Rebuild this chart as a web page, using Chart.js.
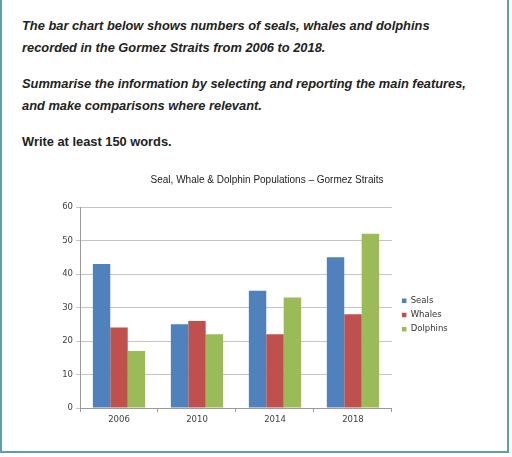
<!DOCTYPE html>
<html>
<head>
<meta charset="utf-8">
<script src="https://cdn.jsdelivr.net/npm/chart.js@4.4.1/dist/chart.umd.min.js"></script>
<style>
html, body { margin: 0; padding: 0; background: #fff; }
body { width: 512px; height: 457px; position: relative; overflow: hidden; }
#frame { position: absolute; left: 0; top: -4px; width: 509px; height: 457px; box-sizing: border-box;
  border: 2px solid #5f9cb8; border-top: none; }
.task { position: absolute; left: 22px; font: italic bold 12.85px "Liberation Sans", Arial, sans-serif;
  color: #222; line-height: 22px; white-space: nowrap; }
.plain { font-style: normal; }
#chart { position: absolute; left: 0; top: 165px; }
</style>
</head>
<body>
<div id="frame"></div>
<div class="task" style="top:15px">The bar chart below shows numbers of seals, whales and dolphins</div>
<div class="task" style="top:37px">recorded in the Gormez Straits from 2006 to 2018.</div>
<div class="task" style="top:73px">Summarise the information by selecting and reporting the main features,</div>
<div class="task" style="top:95px">and make comparisons where relevant.</div>
<div class="task plain" style="top:131px">Write at least 150 words.</div>
<canvas id="chart" width="512" height="290"></canvas>
<script>
const years = ['2006', '2010', '2014', '2018'];
const seals = [43, 25, 35, 45];
const whales = [24, 26, 22, 28];
const dolphins = [17, 22, 33, 52];
const yTicks = [0, 10, 20, 30, 40, 50, 60];

const tickFont = { family: '"DejaVu Sans", sans-serif', size: 8.5 };
const axisGray = '#9a9a9a';

// empty axes used only as spacers around the legend
const spacer = (width, weight) => ({
    type: 'linear',
    position: 'right',
    display: true,
    weight: weight,
    grid: { display: false },
    border: { display: false },
    ticks: { display: false },
    afterFit: (scale) => { scale.width = width; }
});

const ctx = document.getElementById('chart').getContext('2d');
new Chart(ctx, {
    type: 'bar',
    data: {
        labels: years,
        datasets: [
            { label: 'Seals', data: seals, backgroundColor: '#4f81bd' },
            { label: 'Whales', data: whales, backgroundColor: '#c0504d' },
            { label: 'Dolphins', data: dolphins, backgroundColor: '#9bbb59' }
        ]
    },
    options: {
        responsive: false,
        animation: false,
        categoryPercentage: 0.67,
        barPercentage: 1.0,
        layout: { padding: { left: 60, right: 38, top: 0, bottom: 17 } },
        plugins: {
            title: {
                display: true,
                text: 'Seal, Whale & Dolphin Populations \u2013 Gormez Straits',
                color: '#222',
                font: { family: '"Liberation Sans", Arial, sans-serif', size: 10, weight: 'normal' },
                padding: { top: 9, bottom: 21 }
            },
            legend: {
                position: 'right',
                fullSize: false,
                align: 'center',
                title: { display: true, text: '', font: { size: 15, lineHeight: 1 }, padding: 0 },
                labels: {
                    boxWidth: 4.5,
                    boxHeight: 4.5,
                    padding: 5.7,
                    color: '#333',
                    font: tickFont
                }
            },
            tooltip: { enabled: false }
        },
        scales: {
            x: {
                grid: { drawOnChartArea: false, tickLength: 4, color: axisGray },
                border: { color: axisGray },
                ticks: { color: '#404040', font: tickFont, padding: 3 },
                afterFit: (scale) => { scale.height = 30; }
            },
            y: {
                min: yTicks[0],
                max: yTicks[yTicks.length - 1],
                ticks: { stepSize: 10, color: '#404040', font: tickFont, padding: 3 },
                grid: { color: '#c4c4c4', tickLength: 4 },
                border: { color: axisGray },
                afterFit: (scale) => { scale.width = 20; }
            },
            gapIn: spacer(4.3, 0),
            gapOut: spacer(26, 2000)
        }
    }
});
</script>
</body>
</html>
